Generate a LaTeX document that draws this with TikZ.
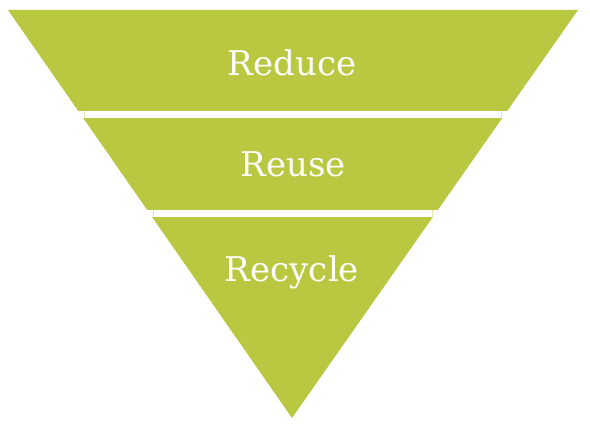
\documentclass[tikz,border=0pt]{standalone}
\usepackage{fontspec}
\setmainfont{DejaVu Serif}
\usepackage{xcolor}
\usepackage{tikz}

\definecolor{leafgreen}{RGB}{185,200,64}
\definecolor{palegreen}{RGB}{226,233,175}

\tikzset{layer/.style={text=white,anchor=base,font=\fontsize{34}{40}\selectfont}}

\begin{document}
\begin{tikzpicture}[x=1pt,y=-1pt]
\useasboundingbox (0,0) rectangle (590,425);
\begin{scope}
    \fill[leafgreen] (8,10) -- (578,10) -- (292,418) -- cycle;

    % gaps between the layers
    \fill[white] (60,111.5) rectangle (530,118.5);
    \draw[palegreen,line width=0.5pt] (84.5,111.5) -- (84.5,118.5);
    \draw[palegreen,line width=0.5pt] (501.5,111.5) -- (501.5,118.5);

    \fill[white] (130,210.5) rectangle (460,217.5);
    \draw[palegreen,line width=0.5pt] (153.5,210.5) -- (153.5,217.5);
    \draw[palegreen,line width=0.5pt] (432.5,210.5) -- (432.5,217.5);

    \node[layer] (reduce) at (292,76) {Reduce};
    \node[layer] (reuse) at (293,177) {Reuse};
    \node[layer] (recycle) at (292,282) {Recycle};
\end{scope}
\end{tikzpicture}
\end{document}
